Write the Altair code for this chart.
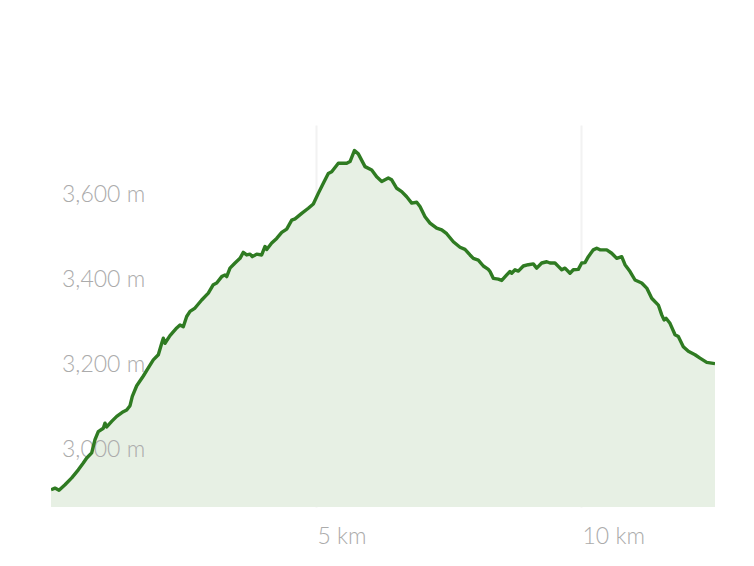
import altair as alt
import pandas as pd

# Elevation profile
km = [0.000, 0.075, 0.151, 0.264, 0.391, 0.515, 0.609, 0.674, 0.768, 0.830,
      0.892, 0.987, 1.019, 1.051, 1.145, 1.240, 1.364, 1.428, 1.491, 1.534,
      1.617, 1.742, 1.836, 1.930, 2.025, 2.089, 2.119, 2.151, 2.245, 2.372,
      2.434, 2.496, 2.560, 2.623, 2.717, 2.843, 2.968, 3.062, 3.126, 3.221,
      3.283, 3.315, 3.377, 3.472, 3.566, 3.628, 3.692, 3.755, 3.798, 3.881,
      3.975, 4.038, 4.070, 4.164, 4.258, 4.353, 4.447, 4.542, 4.604, 4.730,
      4.855, 4.949, 5.043, 5.138, 5.232, 5.296, 5.421, 5.579, 5.642, 5.726,
      5.798, 5.925, 6.051, 6.145, 6.240, 6.364, 6.428, 6.523, 6.617, 6.711,
      6.806, 6.900, 6.962, 7.057, 7.151, 7.277, 7.372, 7.466, 7.591, 7.717,
      7.811, 7.906, 7.968, 8.062, 8.157, 8.251, 8.283, 8.345, 8.440, 8.504,
      8.598, 8.660, 8.692, 8.755, 8.817, 8.911, 9.006, 9.100, 9.164, 9.258,
      9.353, 9.415, 9.509, 9.572, 9.636, 9.698, 9.792, 9.855, 9.949, 10.013,
      10.075, 10.138, 10.232, 10.296, 10.358, 10.485, 10.579, 10.674, 10.768, 10.830,
      10.925, 11.019, 11.145, 11.240, 11.334, 11.459, 11.523, 11.566, 11.604, 11.679,
      11.774, 11.836, 11.930, 12.025, 12.151, 12.245, 12.372, 12.528]
elev = [2937, 2941, 2936, 2949, 2965, 2984, 3000, 3012, 3024, 3055,
        3074, 3082, 3094, 3085, 3098, 3110, 3121, 3125, 3135, 3157,
        3182, 3205, 3224, 3243, 3255, 3282, 3294, 3282, 3300, 3318,
        3325, 3321, 3345, 3357, 3365, 3384, 3400, 3420, 3424, 3439,
        3443, 3439, 3459, 3471, 3482, 3496, 3490, 3492, 3486, 3492,
        3490, 3510, 3503, 3518, 3529, 3543, 3551, 3572, 3575, 3588,
        3600, 3610, 3635, 3659, 3682, 3686, 3706, 3706, 3710, 3736,
        3728, 3698, 3690, 3674, 3663, 3671, 3667, 3647, 3639, 3627,
        3612, 3614, 3604, 3580, 3565, 3553, 3549, 3540, 3521, 3508,
        3503, 3490, 3482, 3478, 3464, 3456, 3451, 3435, 3433, 3430,
        3443, 3451, 3447, 3455, 3452, 3464, 3467, 3469, 3459, 3471,
        3474, 3471, 3471, 3463, 3455, 3459, 3447, 3455, 3456, 3471,
        3472, 3486, 3502, 3506, 3502, 3502, 3494, 3482, 3486, 3467,
        3451, 3431, 3424, 3412, 3388, 3372, 3349, 3337, 3341, 3329,
        3302, 3298, 3274, 3263, 3255, 3247, 3237, 3234]

x_ticks = [5, 10]
y_ticks = [3000, 3200, 3400, 3600]
y_labels = ["3,000 m", "3,200 m", "3,400 m", "3,600 m"]

x_domain = [0, 12.528]
y_domain = [2896.5, 3796]

FONT = "Lato"
FONT_SIZE = 23
LABEL_COLOR = "#ababab"
GRID_COLOR = "#f2f2f2"
LINE_COLOR = "#2f7b22"
FILL_COLOR = "#e7f0e4"

df = pd.DataFrame({"km": km, "elev": elev})
ticks_df = pd.DataFrame({"v": y_ticks, "label": y_labels})

xs = alt.Scale(domain=x_domain, nice=False, zero=False)
ys = alt.Scale(domain=y_domain, nice=False, zero=False)

area = alt.Chart(df).mark_area(color=FILL_COLOR, opacity=1, clip=True).encode(
    x=alt.X("km:Q", scale=xs, axis=alt.Axis(
        values=x_ticks, title=None, domain=False, ticks=False, tickSize=0,
        grid=True, gridColor=GRID_COLOR, gridWidth=2,
        labelExpr="datum.value + ' km'", labelFont=FONT, labelFontSize=FONT_SIZE,
        labelFontWeight=300, labelColor=LABEL_COLOR, labelAlign="left",
        labelBaseline="alphabetic", labelPadding=36, labelOffset=1)),
    y=alt.Y("elev:Q", scale=ys, axis=alt.Axis(
        values=y_ticks, title=None, domain=False, ticks=False, tickSize=0,
        grid=True, gridColor=GRID_COLOR, gridWidth=2, labels=False)),
)

labels = alt.Chart(ticks_df).mark_text(
    font=FONT, fontSize=FONT_SIZE, fontWeight=300, color=LABEL_COLOR,
    align="left", baseline="alphabetic", dy=-6,
).encode(
    x=alt.value(11),
    y=alt.Y("v:Q", scale=ys, axis=None),
    text="label:N",
)

line = alt.Chart(df).mark_line(color=LINE_COLOR, strokeWidth=3.4,
                               strokeJoin="round", clip=True).encode(
    x=alt.X("km:Q", scale=xs),
    y=alt.Y("elev:Q", scale=ys),
)

chart = alt.layer(area, labels, line).properties(
    width=664, height=382,
    autosize=alt.AutoSizeParams(type="none"),
    padding={"left": 43, "top": 117, "right": 31, "bottom": 51},
).configure_view(stroke=None)

chart.save("out.html", embed_options={"renderer": "svg", "actions": False})
